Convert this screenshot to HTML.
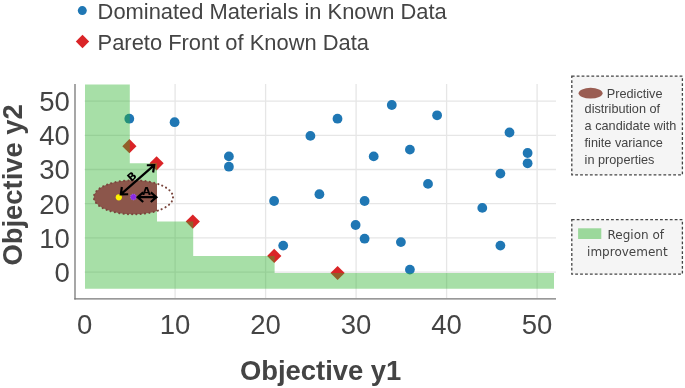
<!DOCTYPE html>
<html><head><meta charset="utf-8"><title>Pareto front</title>
<style>
html,body{margin:0;padding:0;background:#fff;}
svg{display:block;}
text{font-family:"Liberation Sans",sans-serif;fill:#444;}
.dv{font-family:"DejaVu Sans",sans-serif;}
</style></head><body>
<svg width="685" height="388" viewBox="0 0 685 388">
<rect width="685" height="388" fill="#fff"/>

<g stroke="#e6e6e6" stroke-width="1.3">
<line x1="84.6" y1="272.1" x2="556" y2="272.1"/>
<line x1="175.1" y1="84" x2="175.1" y2="298"/>
<line x1="84.6" y1="237.9" x2="556" y2="237.9"/>
<line x1="265.6" y1="84" x2="265.6" y2="298"/>
<line x1="84.6" y1="203.7" x2="556" y2="203.7"/>
<line x1="356.1" y1="84" x2="356.1" y2="298"/>
<line x1="84.6" y1="169.5" x2="556" y2="169.5"/>
<line x1="446.6" y1="84" x2="446.6" y2="298"/>
<line x1="84.6" y1="135.3" x2="556" y2="135.3"/>
<line x1="537.1" y1="84" x2="537.1" y2="298"/>
<line x1="84.6" y1="101.1" x2="556" y2="101.1"/>
</g>
<g fill="#1f77b4">
<circle cx="129.3" cy="118.7" r="4.9"/>
<circle cx="174.6" cy="122.2" r="4.9"/>
<circle cx="228.9" cy="156.4" r="4.9"/>
<circle cx="228.9" cy="166.7" r="4.9"/>
<circle cx="274.1" cy="201.0" r="4.9"/>
<circle cx="283.2" cy="245.6" r="4.9"/>
<circle cx="310.4" cy="135.9" r="4.9"/>
<circle cx="319.4" cy="194.2" r="4.9"/>
<circle cx="337.5" cy="118.7" r="4.9"/>
<circle cx="355.6" cy="225.0" r="4.9"/>
<circle cx="364.6" cy="201.0" r="4.9"/>
<circle cx="364.6" cy="238.7" r="4.9"/>
<circle cx="373.7" cy="156.4" r="4.9"/>
<circle cx="391.8" cy="105.0" r="4.9"/>
<circle cx="400.9" cy="242.1" r="4.9"/>
<circle cx="409.9" cy="149.6" r="4.9"/>
<circle cx="409.9" cy="269.6" r="4.9"/>
<circle cx="428.0" cy="183.9" r="4.9"/>
<circle cx="437.1" cy="115.3" r="4.9"/>
<circle cx="482.3" cy="207.9" r="4.9"/>
<circle cx="500.4" cy="173.6" r="4.9"/>
<circle cx="500.4" cy="245.6" r="4.9"/>
<circle cx="509.5" cy="132.5" r="4.9"/>
<circle cx="527.6" cy="153.0" r="4.9"/>
<circle cx="527.6" cy="163.3" r="4.9"/>
</g>
<g fill="#da2427">
<path d="M129.4 139.1L136.5 146.2L129.4 153.3L122.3 146.2Z"/>
<path d="M156.6 156.2L163.7 163.3L156.6 170.4L149.5 163.3Z"/>
<path d="M192.8 214.5L199.9 221.6L192.8 228.7L185.7 221.6Z"/>
<path d="M274.2 248.8L281.4 255.9L274.2 263.0L267.1 255.9Z"/>
<path d="M337.6 265.9L344.7 273.0L337.6 280.1L330.5 273.0Z"/>
</g>
<path d="M85.0 84.4 L129.8 84.4 L129.8 163.3 L157.0 163.3 L157.0 221.6 L193.2 221.6 L193.2 255.9 L274.6 255.9 L274.6 273.0 L554 273.0 L554 288.7 L85.0 288.7 Z" fill="#2db32d" fill-opacity="0.42"/>
<clipPath id="cl"><rect x="0" y="0" width="157.0" height="388"/></clipPath>
<ellipse cx="133.4" cy="197.3" rx="39.6" ry="17.0" fill="#8c564b" clip-path="url(#cl)"/>
<ellipse cx="133.4" cy="197.3" rx="39.6" ry="17.0" fill="none" stroke="#7a463d" stroke-width="2" stroke-linecap="round" stroke-dasharray="0.2 4.1"/>
<circle cx="118.8" cy="197.3" r="3.1" fill="#fff200"/>
<circle cx="133.4" cy="197" r="2.9" fill="#8a2be2" stroke="#b26cff" stroke-width="0.8" stroke-dasharray="1 1"/>
<g stroke="#000" stroke-width="2.2" fill="none" stroke-linecap="butt" stroke-linejoin="miter">
<path d="M137.60 197.20L156.40 197.20M150.80 202.00L156.40 197.20L150.80 192.40M143.20 202.00L137.60 197.20L143.20 192.40"/>
<path d="M120.80 194.30L154.20 165.20M153.13 172.50L154.20 165.20L146.82 165.26M128.18 194.24L120.80 194.30L121.87 187.00"/>
</g>
<text class="dv" x="146.6" y="194.6" font-size="11" font-weight="bold" text-anchor="middle" style="fill:#000">A</text>
<text class="dv" transform="translate(134.4 179.4) rotate(-41.3)" font-size="11" font-weight="bold" text-anchor="middle" style="fill:#000">B</text>
<g stroke="#777" stroke-width="1.3"><line x1="75.0" y1="84" x2="75.0" y2="299.6"/><line x1="74.3" y1="298.9" x2="556" y2="298.9"/></g>
<g font-size="27.5">
<text x="84.6" y="334" text-anchor="middle">0</text>
<text x="69.8" y="281.9" text-anchor="end">0</text>
<text x="175.1" y="334" text-anchor="middle">10</text>
<text x="69.8" y="247.7" text-anchor="end">10</text>
<text x="265.6" y="334" text-anchor="middle">20</text>
<text x="69.8" y="213.5" text-anchor="end">20</text>
<text x="356.1" y="334" text-anchor="middle">30</text>
<text x="69.8" y="179.3" text-anchor="end">30</text>
<text x="446.6" y="334" text-anchor="middle">40</text>
<text x="69.8" y="145.1" text-anchor="end">40</text>
<text x="537.1" y="334" text-anchor="middle">50</text>
<text x="69.8" y="110.9" text-anchor="end">50</text>
</g>
<text x="320.6" y="379.5" font-size="27.4" font-weight="bold" text-anchor="middle">Objective y1</text>
<text transform="translate(21.7 184.9) rotate(-90)" font-size="27.4" font-weight="bold" text-anchor="middle">Objective y2</text>
<circle cx="82.3" cy="10.6" r="4.5" fill="#1f77b4"/>
<path d="M82.5 34.8L89.2 41.5L82.5 48.2L75.8 41.5Z" fill="#da2427"/>
<text x="97.6" y="19.1" font-size="21.9">Dominated Materials in Known Data</text>
<text x="97.6" y="49.6" font-size="21.9">Pareto Front of Known Data</text>
<rect x="571.8" y="76.2" width="110.6" height="98.6" fill="#f5f5f5" stroke="#444" stroke-width="1.3" stroke-dasharray="2.8 2.1"/>
<ellipse cx="590.6" cy="93.2" rx="12" ry="5.4" fill="#9a5d52"/>
<g font-size="12.7">
<text x="584.6" y="113.3">distribution of</text>
<text x="584.6" y="130.2">a candidate with</text>
<text x="584.6" y="147.0">finite variance</text>
<text x="584.6" y="163.8">in properties</text>
<text x="606.8" y="97.5">Predictive</text>
</g>
<rect x="571.8" y="219.7" width="110.6" height="54.5" fill="#f5f5f5" stroke="#444" stroke-width="1.3" stroke-dasharray="2.8 2.1"/>
<rect x="578.1" y="228.3" width="23.2" height="10.7" fill="#9bd89b"/>
<text class="dv" x="607.5" y="239" font-size="12">Region of</text>
<text class="dv" x="587.1" y="255.7" font-size="12">improvement</text>
</svg></body></html>
